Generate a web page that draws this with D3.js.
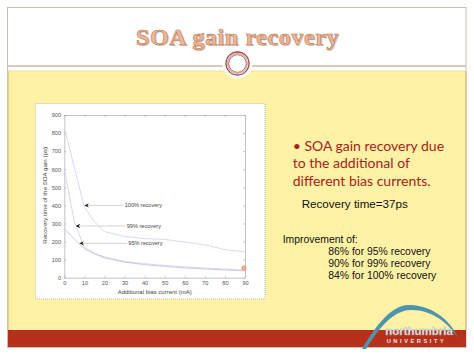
<!DOCTYPE html>
<html><head><meta charset="utf-8">
<script src="https://cdn.jsdelivr.net/npm/d3@7"></script>
<style>html,body{margin:0;padding:0;background:#fff;} svg{display:block;}</style>
</head><body>
<svg id="c" width="474" height="355"></svg>
<script>
// ---- data ----
const currents = [0, 5, 10, 15, 20, 30, 40, 50, 60, 70, 80, 90];
const rec100 = [830, 610, 390, 310, 255, 228, 216, 212, 197, 182, 155, 143];
const rec99  = [600, 310, 168, 135, 115, 90, 78, 68, 60, 53, 47, 42];
const rec95  = [270, 215, 160, 132, 110, 86, 72, 62, 54, 48, 43, 38];
const seriesNames = ["100% recovery", "99% recovery", "95% recovery"];
const arrowTipX = [10, 5.7, 7.5];
const arrowTipY = [400, 286, 190];
const arrowTailX = [29.5, 30.5, 31.3];
const markerX = [89.5];
const markerY = [53];
const xTicks = [0, 10, 20, 30, 40, 50, 60, 70, 80, 90];
const yTicks = [0, 100, 200, 300, 400, 500, 600, 700, 800, 900];
const xTitle = "Additional bias current (mA)";
const yTitle = "Recovery time of the SOA gain (ps)";
const slideTitle = "SOA gain recovery";
const bulletLines = ["• SOA gain recovery due", "to the additional of", "different bias currents."];
const recoveryNote = "Recovery time=37ps";
const improvementHead = "Improvement of:";
const improvementLines = ["86% for 95% recovery", "90% for 99% recovery", "84% for 100% recovery"];

const svg = d3.select("#c");

// ---- slide background ----
svg.append("rect").attr("x", 7.5).attr("y", 7.5).attr("width", 458.5).attr("height", 340)
  .attr("fill", "#fff").attr("stroke", "#cdbcb3").attr("stroke-width", 1);
svg.append("rect").attr("x", 8).attr("y", 71).attr("width", 458).attr("height", 259).attr("fill", "#fff2a6");
svg.append("line").attr("x1", 8).attr("x2", 466).attr("y1", 71).attr("y2", 71).attr("stroke", "#f3e0a0");
svg.append("rect").attr("x", 8).attr("y", 330).attr("width", 458).attr("height", 17).attr("fill", "#b7301c");
svg.append("line").attr("x1", 8).attr("x2", 466).attr("y1", 66).attr("y2", 66)
  .attr("stroke", "#cbb8ae").attr("stroke-width", 1.3);
svg.append("line").attr("x1", 8).attr("x2", 8).attr("y1", 71).attr("y2", 330).attr("stroke", "#d9c58c").attr("stroke-width", 1.5);
svg.append("line").attr("x1", 466).attr("x2", 466).attr("y1", 71).attr("y2", 330).attr("stroke", "#d9c58c").attr("stroke-width", 1.5);

// title ring
svg.append("circle").attr("cx", 237.5).attr("cy", 63.5).attr("r", 15).attr("fill", "#fff");
svg.append("circle").attr("cx", 237.5).attr("cy", 63.5).attr("r", 11.5).attr("fill", "none").attr("stroke", "#a04848").attr("stroke-width", 1.3);
svg.append("circle").attr("cx", 237.5).attr("cy", 63.5).attr("r", 10).attr("fill", "none").attr("stroke", "#dcb0a8").attr("stroke-width", 1.2);
svg.append("circle").attr("cx", 237.5).attr("cy", 63.5).attr("r", 8.8).attr("fill", "none").attr("stroke", "#a85a55").attr("stroke-width", 0.9);

// title
const tFont = "'Liberation Serif','DejaVu Serif',serif";
svg.append("text").attr("x", 238.8).attr("y", 46).attr("text-anchor", "middle")
  .attr("font-family", tFont).attr("font-weight", "bold").attr("font-size", 24)
  .attr("letter-spacing", 0.6).attr("fill", "#cdc6c2").text(slideTitle);
svg.append("text").attr("x", 237.5).attr("y", 44.5).attr("text-anchor", "middle")
  .attr("font-family", tFont).attr("font-weight", "bold").attr("font-size", 24)
  .attr("letter-spacing", 0.6).attr("fill", "#ecb99a").attr("stroke", "#c4764f").attr("stroke-width", 0.6)
  .text(slideTitle);

// ---- chart panel ----
svg.append("rect").attr("x", 35.5).attr("y", 103.5).attr("width", 229.5).attr("height", 195.5)
  .attr("fill", "#fff").attr("stroke", "#b8b0a0").attr("stroke-width", 0.8).attr("stroke-dasharray", "1,1");

const x = d3.scaleLinear().domain([0, 90]).range([64.3, 245]);
const y = d3.scaleLinear().domain([0, 900]).range([277.7, 115]);
const axFont = "'Liberation Sans',Arial,sans-serif";

function styleAxis(g) {
  g.selectAll("path").attr("stroke", "#b4b4b4").attr("stroke-width", 0.8);
  g.selectAll("line").attr("stroke", "#a8a8a8").attr("stroke-width", 0.6);
  g.selectAll("text").attr("fill", "#555").attr("font-family", axFont).attr("font-size", 5.6);
}
svg.append("g").attr("transform", `translate(0,${y(0)})`)
  .call(d3.axisBottom(x).tickValues(xTicks).tickSize(-2).tickSizeOuter(0).tickPadding(3)).call(styleAxis);
svg.append("g").attr("transform", `translate(0,${y(900)})`)
  .call(d3.axisTop(x).tickValues(xTicks).tickSize(-2).tickSizeOuter(0).tickFormat("")).call(styleAxis);
svg.append("g").attr("transform", `translate(${x(0)},0)`)
  .call(d3.axisLeft(y).tickValues(yTicks).tickSize(-2).tickSizeOuter(0).tickPadding(3.3)).call(styleAxis);
svg.append("g").attr("transform", `translate(${x(90)},0)`)
  .call(d3.axisRight(y).tickValues(yTicks).tickSize(-2).tickSizeOuter(0).tickFormat("")).call(styleAxis);

// axis titles
svg.append("text").attr("x", (x(0) + x(90)) / 2).attr("y", 294).attr("text-anchor", "middle")
  .attr("font-family", axFont).attr("font-size", 6).attr("fill", "#444").text(xTitle);
svg.append("text").attr("transform", `translate(47,${(y(0) + y(900)) / 2 - 1}) rotate(-90)`)
  .attr("text-anchor", "middle").attr("font-family", axFont).attr("font-size", 6.2).attr("fill", "#444").text(yTitle);

// curves
const series = [rec100, rec99, rec95];
const colors = ["#d6d6ea", "#d2d2ea", "#c4c4e4"];
const line = d3.line().x((d, i) => x(currents[i])).y(d => y(d));
series.forEach((s, k) => {
  svg.append("path").datum(s).attr("d", line).attr("fill", "none")
    .attr("stroke", colors[k]).attr("stroke-width", 0.9);
});

// marker
svg.selectAll(".mk").data(markerX).enter().append("circle")
  .attr("cx", (d) => x(d)).attr("cy", (d, i) => y(markerY[i])).attr("r", 2.3)
  .attr("fill", "#f2b48a").attr("stroke", "#e08a5a").attr("stroke-width", 0.6);

// annotation arrows
seriesNames.forEach((name, i) => {
  const tx = x(arrowTipX[i]), ty = y(arrowTipY[i]), ex = x(arrowTailX[i]);
  svg.append("line").attr("x1", tx + 3).attr("x2", ex).attr("y1", ty).attr("y2", ty)
    .attr("stroke", "#c0c0c0").attr("stroke-width", 0.7);
  svg.append("path").attr("d", `M${tx},${ty} L${tx + 4.5},${ty - 2.2} L${tx + 3},${ty} L${tx + 4.5},${ty + 2.2} Z`)
    .attr("fill", "#111");
  svg.append("text").attr("x", ex + 1.2).attr("y", ty + 2).attr("font-family", axFont)
    .attr("font-size", 5.6).attr("fill", "#444").text(name);
});

// ---- right-hand text ----
const bodyFont = "Lato,'Open Sans',sans-serif";
bulletLines.forEach((t, i) => {
  svg.append("text").attr("x", 292.7).attr("y", 150.7 + i * 17.5).attr("font-family", bodyFont)
    .attr("font-size", 14).attr("fill", "#a8231a").text(t);
});
svg.append("text").attr("x", 301.7).attr("y", 208).attr("font-family", axFont)
  .attr("font-size", 11.6).attr("fill", "#111").text(recoveryNote);
svg.append("text").attr("x", 282.7).attr("y", 242.5).attr("font-family", axFont)
  .attr("font-size", 10.4).attr("fill", "#111").text(improvementHead);
improvementLines.forEach((t, i) => {
  svg.append("text").attr("x", 328.3).attr("y", 254.7 + i * 12).attr("font-family", axFont)
    .attr("font-size", 10.4).attr("fill", "#111").text(t);
});

// ---- logo ----
svg.append("path")
  .attr("d", "M362,349 C378,322 392,306 408,305 C428,304 450,318 458,338 C448,322 430,309 410,310 C394,311 380,326 366,349 Z")
  .attr("fill", "#4f94ad");
svg.append("text").attr("x", 419).attr("y", 335).attr("text-anchor", "middle")
  .attr("font-family", "'Liberation Sans',Arial,sans-serif").attr("font-weight", "bold")
  .attr("font-size", 11.5).attr("fill", "#f4e6e0").attr("stroke", "#7fb0c0").attr("stroke-width", 0.3)
  .text("northumbria");
svg.append("text").attr("x", 416.5).attr("y", 343).attr("text-anchor", "middle")
  .attr("font-family", "'Liberation Sans',Arial,sans-serif").attr("font-weight", "bold")
  .attr("font-size", 5.6).attr("letter-spacing", 2.6).attr("fill", "#f4e6e0")
  .text("UNIVERSITY");
</script>
</body></html>
